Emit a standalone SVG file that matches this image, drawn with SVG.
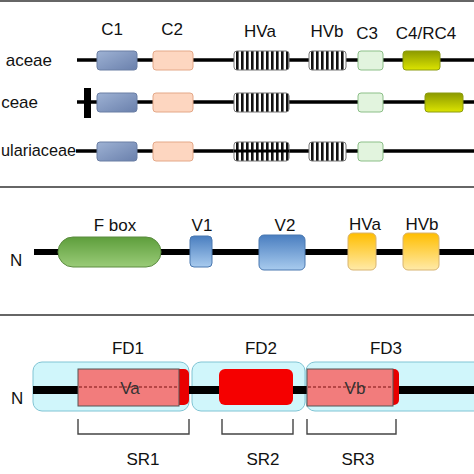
<svg xmlns="http://www.w3.org/2000/svg" width="474" height="474" viewBox="0 0 474 474">
<style>
text{font-family:"Liberation Sans",Arial,sans-serif;font-size:17px;fill:#111}
.mid{text-anchor:middle}
.sep{stroke:#666;stroke-width:2}
.bb{stroke:#000;fill:none}
.br{fill:none;stroke:#444;stroke-width:1.4}
</style>
<defs>
<linearGradient id="gC1" x1="0" y1="0" x2="1" y2="1"><stop offset="0" stop-color="#9eb2d4"/><stop offset="1" stop-color="#6a80ac"/></linearGradient>
<linearGradient id="gC4" x1="0" y1="0" x2="0" y2="1"><stop offset="0" stop-color="#8c9a00"/><stop offset="1" stop-color="#dce400"/></linearGradient>
<linearGradient id="gF" x1="0" y1="0" x2="0" y2="1"><stop offset="0" stop-color="#5e9e3c"/><stop offset="1" stop-color="#9acb78"/></linearGradient>
<linearGradient id="gV" x1="0" y1="0" x2="0" y2="1"><stop offset="0" stop-color="#4a7ec0"/><stop offset="1" stop-color="#a8cbee"/></linearGradient>
<linearGradient id="gH" x1="0" y1="0" x2="0" y2="1"><stop offset="0" stop-color="#ffbe00"/><stop offset="1" stop-color="#ffeaa8"/></linearGradient>
<pattern id="stripe" x="0" y="0" width="5" height="10" patternUnits="userSpaceOnUse"><rect width="5" height="10" fill="#fff"/><rect x="1" width="2.6" height="10" fill="#111"/></pattern>
</defs>

<g id="separators">
<line class="sep" x1="0" y1="1" x2="474" y2="1"/>
<line class="sep" x1="0" y1="187" x2="474" y2="187"/>
<line class="sep" x1="0" y1="315" x2="474" y2="315"/>
</g>

<g id="connectors">
<line class="bb" x1="77" y1="60" x2="474" y2="60" stroke-width="3.5"/>
<line class="bb" x1="77" y1="102" x2="474" y2="102" stroke-width="3.5"/>
<line class="bb" x1="76" y1="151" x2="474" y2="151" stroke-width="3.5"/>
<rect x="84" y="88" width="7" height="30" fill="#000"/>
<line class="bb" x1="34" y1="252" x2="474" y2="252" stroke-width="6"/>
<line class="bb" x1="33" y1="390" x2="474" y2="390" stroke-width="8"/>
</g>

<g id="top-labels">
<text class="mid" x="112" y="35">C1</text>
<text class="mid" x="172" y="35">C2</text>
<text class="mid" x="260" y="37">HVa</text>
<text class="mid" x="327" y="37">HVb</text>
<text class="mid" x="367" y="39">C3</text>
<text class="mid" x="426" y="39">C4/RC4</text>
<text x="52" y="66" text-anchor="end">aceae</text>
<text x="38" y="108" text-anchor="end">ceae</text>
<text x="1" y="156" style="font-size:16.3px">ulariaceae</text>
</g>

<g id="row1">
<rect x="97" y="51" width="40" height="19" rx="3" fill="url(#gC1)" stroke="#6a7ea4"/>
<rect x="153" y="51" width="40" height="19" rx="3" fill="#fdd6c0" stroke="#e4a888"/>
<rect x="234" y="51" width="55" height="19" rx="3" fill="url(#stripe)" stroke="#777"/>
<rect x="309" y="51" width="37" height="19" rx="3" fill="url(#stripe)" stroke="#777"/>
<rect x="358" y="51" width="25" height="19" rx="3" fill="#e2f4de" stroke="#8cbf88"/>
<rect x="403" y="51" width="37" height="19" rx="3" fill="url(#gC4)" stroke="#8c9c10"/>
</g>
<g id="row2">
<rect x="97" y="93" width="40" height="19" rx="3" fill="url(#gC1)" stroke="#6a7ea4"/>
<rect x="153" y="93" width="40" height="19" rx="3" fill="#fdd6c0" stroke="#e4a888"/>
<rect x="234" y="93" width="55" height="19" rx="3" fill="url(#stripe)" stroke="#777"/>
<rect x="358" y="93" width="25" height="19" rx="3" fill="#e2f4de" stroke="#8cbf88"/>
<rect x="425" y="93" width="38" height="19" rx="3" fill="url(#gC4)" stroke="#8c9c10"/>
</g>
<g id="row3">
<rect x="97" y="142" width="40" height="19" rx="3" fill="url(#gC1)" stroke="#6a7ea4"/>
<rect x="153" y="142" width="40" height="19" rx="3" fill="#fdd6c0" stroke="#e4a888"/>
<rect x="234" y="142" width="55" height="19" rx="3" fill="url(#stripe)" stroke="#777"/>
<line x1="234" y1="151" x2="289" y2="151" stroke="#000" stroke-width="3"/>
<rect x="309" y="142" width="37" height="19" rx="3" fill="url(#stripe)" stroke="#777"/>
<rect x="358" y="142" width="25" height="19" rx="3" fill="#e2f4de" stroke="#8cbf88"/>
</g>

<g id="middle">
<text x="10" y="266">N</text>
<text class="mid" x="115" y="231">F box</text>
<text class="mid" x="202" y="231">V1</text>
<text class="mid" x="285" y="231">V2</text>
<text class="mid" x="365" y="230">HVa</text>
<text class="mid" x="422" y="230">HVb</text>
<rect id="fbox" x="58" y="237" width="103" height="30" rx="15" fill="url(#gF)" stroke="#5c8c40"/>
<rect id="v1" x="190" y="236" width="22" height="31" rx="4" fill="url(#gV)" stroke="#4a78b0"/>
<rect id="v2" x="259" y="235" width="46" height="35" rx="5" fill="url(#gV)" stroke="#4a78b0"/>
<rect id="hva" x="348" y="233" width="28" height="37" rx="5" fill="url(#gH)" stroke="#d8b470"/>
<rect id="hvb" x="403" y="233" width="36" height="37" rx="5" fill="url(#gH)" stroke="#d8b470"/>
</g>

<g id="bottom">
<text x="11" y="404">N</text>
<rect x="33" y="362" width="156" height="49" rx="9" fill="#c8f4fa" fill-opacity="0.85" stroke="#80c4d4"/>
<rect x="192" y="362" width="113" height="49" rx="9" fill="#c8f4fa" fill-opacity="0.85" stroke="#80c4d4"/>
<rect x="306" y="362" width="180" height="49" rx="9" fill="#c8f4fa" fill-opacity="0.85" stroke="#80c4d4"/>
<line class="bb" x1="33" y1="390" x2="474" y2="390" stroke-width="8"/>
<g id="fd1">
<rect x="170" y="369" width="19" height="36" rx="5" fill="#e80000"/>
<rect x="78" y="369" width="101" height="37" fill="#f27c7c" stroke="#555"/>
<line x1="79" y1="387" x2="178" y2="387" stroke="#7a1010" stroke-dasharray="3,2"/>
<text class="mid" x="130" y="394" style="fill:#333">Va</text>
</g>
<g id="fd2">
<rect x="219" y="369" width="74" height="36" rx="6" fill="#f50000"/>
</g>
<g id="fd3">
<rect x="387" y="369" width="12" height="36" rx="5" fill="#e80000"/>
<rect x="307" y="369" width="86" height="37" fill="#f27c7c" stroke="#555"/>
<line x1="308" y1="387" x2="392" y2="387" stroke="#7a1010" stroke-dasharray="3,2"/>
<text class="mid" x="355" y="394" style="fill:#333">Vb</text>
</g>
<text class="mid" x="128" y="354">FD1</text>
<text class="mid" x="261" y="354">FD2</text>
<text class="mid" x="386" y="354">FD3</text>
<path class="br" d="M78,419 V434 H189 V419"/>
<path class="br" d="M222,419 V434 H293 V419"/>
<path class="br" d="M307,419 V434 H396 V419"/>
<text class="mid" x="143" y="465">SR1</text>
<text class="mid" x="263" y="465">SR2</text>
<text class="mid" x="358" y="465">SR3</text>
</g>
</svg>
